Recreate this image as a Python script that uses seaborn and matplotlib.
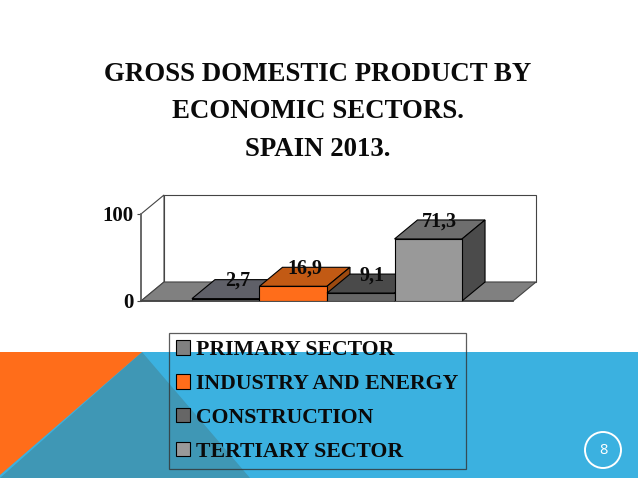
import pandas as pd
import matplotlib.pyplot as plt
from matplotlib.patches import Polygon, Circle
import seaborn as sns

# values
title_lines = ['GROSS DOMESTIC PRODUCT BY', 'ECONOMIC SECTORS.', 'SPAIN 2013.']
sectors = ['PRIMARY SECTOR', 'INDUSTRY AND ENERGY', 'CONSTRUCTION', 'TERTIARY SECTOR']
values = [2.7, 16.9, 9.1, 71.3]
value_labels = ['2,7', '16,9', '9,1', '71,3']
y_ticks = [0, 100]

front_colors = ['#808080', '#FF6D1A', '#666666', '#999999']
top_colors = ['#5F6068', '#C25A14', '#4A4A4A', '#6E6E6E']
side_colors = ['#404040', '#9C4A10', '#3A3A3A', '#4B4B4B']

df = pd.DataFrame({'group': [''] * 4, 'sector': sectors, 'value': values})

sns.set_theme(style='white')
plt.rcParams['font.family'] = ['Liberation Serif', 'DejaVu Sans']

fig = plt.figure(figsize=(6.38, 4.78), dpi=100, facecolor='white')
W, H = 638, 478

# slide background, in pixels
bg = fig.add_axes([0, 0, 1, 1], zorder=0)
bg.set_xlim(0, W)
bg.set_ylim(H, 0)
bg.axis('off')
bg.add_patch(Polygon([(0, 352), (W, 352), (W, H), (0, H)], color='#3BB1E0', lw=0))
bg.add_patch(Polygon([(142, 352), (250, H), (0, H)], color='#3F97B5', lw=0))
bg.add_patch(Polygon([(0, 352), (142, 352), (0, 475)], color='#FF6D1A', lw=0))
bg.add_patch(Circle((603, 450), 18, fc='none', ec='white', lw=1.4))
bg.text(603, 450, '8', color='white', fontsize=10.5, family='Open Sans', ha='center', va='center')

for line, y in zip(title_lines, [74, 111, 149]):
    bg.text(318, y, line, fontsize=19.4, fontweight='bold', ha='center', va='center', color='#0A0A0A')

# front plane of the 3d chart
ax = fig.add_axes([141 / W, 1 - 301 / H, 372 / W, 87 / H], zorder=1)
ax.patch.set_visible(False)
sns.barplot(data=df, x='group', y='value', hue='sector', hue_order=sectors, palette=front_colors,
            width=0.726, gap=0, saturation=1, edgecolor='black', linewidth=0.8, ax=ax)
ax.set_xlim(-0.5, 0.5)
ax.set_ylim(0, 100)
ax.set_xlabel('')
ax.set_ylabel('')
ax.set_xticks([])
ax.set_yticks(y_ticks)
ax.tick_params(axis='y', left=True, length=3, width=0.8, color='#444444', pad=2.5, labelsize=15)
for label in ax.get_yticklabels():
    label.set_fontweight('bold')
    label.set_color('#0A0A0A')
sns.despine(ax=ax, top=True, right=True)
ax.spines['left'].set_color('#666666')
ax.spines['bottom'].set_color('#444444')

# depth of the 3d effect
dx = 23 / 372
dy = 19 / 87 * 100

wall = {'clip_on': False, 'lw': 0.8, 'ec': '#444444', 'zorder': 0.2}
ax.add_patch(Polygon([(-0.5 + dx, dy), (0.5 + dx, dy), (0.5 + dx, 100 + dy), (-0.5 + dx, 100 + dy)], fc='white', **wall))
ax.add_patch(Polygon([(-0.5, 0), (-0.5 + dx, dy), (-0.5 + dx, 100 + dy), (-0.5, 100)], fc='white', **wall))
ax.add_patch(Polygon([(-0.5, 0), (0.5, 0), (0.5 + dx, dy), (-0.5 + dx, dy)], fc='#808080', **wall))

# top and side faces are built from the bars seaborn drew, left to right
for i, container in enumerate(ax.containers):
    bar = container[0]
    x0, x1 = bar.get_x(), bar.get_x() + bar.get_width()
    v = bar.get_height()
    z = 1 + i * 3
    edge = {'ec': 'black', 'lw': 0.8, 'clip_on': False, 'zorder': z}
    ax.add_patch(Polygon([(x0, v), (x1, v), (x1 + dx, v + dy), (x0 + dx, v + dy)], fc=top_colors[i], **edge))
    ax.add_patch(Polygon([(x1, 0), (x1 + dx, dy), (x1 + dx, v + dy), (x1, v)], fc=side_colors[i], **edge))
    bar.set_zorder(z + 1)
    ax.annotate(value_labels[i], ((x0 + x1 + dx) / 2, v + dy / 2), xytext=(0, 6), textcoords='offset points',
                ha='center', va='center', fontsize=14.5, fontweight='bold', color='#0A0A0A',
                annotation_clip=False, zorder=30)

handles, labels = ax.get_legend_handles_labels()
ax.get_legend().remove()
leg = fig.legend(handles, labels, loc='upper left', bbox_to_anchor=(169 / W, 1 - 333 / H), bbox_transform=fig.transFigure,
                 frameon=True, fancybox=False, facecolor='none', edgecolor='#333333', borderaxespad=0,
                 prop={'family': 'Liberation Serif', 'size': 15.7, 'weight': 'bold'},
                 handlelength=0.62, handleheight=0.62, handletextpad=0.3, labelspacing=0.64,
                 borderpad=0.33)
leg.set_zorder(5)
leg.get_frame().set_linewidth(0.9)
for text in leg.get_texts():
    text.set_color('#0A0A0A')

fig.savefig('out.png', dpi=100)
